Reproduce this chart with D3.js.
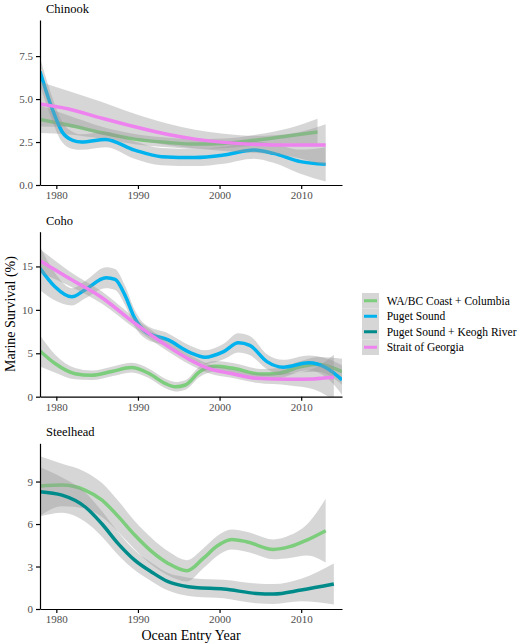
<!DOCTYPE html>
<html lang="en">
<head>
    <meta charset="UTF-8">
    <title>Marine survival by ocean entry year</title>
    <script src="https://d3js.org/d3.v7.min.js"></script>
    <style>
        body { margin: 0; background: #fff; }
        svg { font-family: "Liberation Serif", "Times New Roman", serif; }
        .axis path, .axis line { stroke: #000; stroke-width: 1.2px; }
        .axis text { fill: #4d4d4d; font-size: 11px; font-family: "Liberation Serif", serif; }
        .ribbon { fill: #999; fill-opacity: 0.4; }
        .fit { fill: none; stroke-width: 3.5px; }
    </style>
</head>
<body>
    <div id="chart"></div>
    <script>
        const seriesNames = ["WA/BC Coast + Columbia", "Puget Sound", "Puget Sound + Keogh River", "Strait of Georgia"];
        const seriesColors = ["#7CCD7C", "#00B2EE", "#008B8B", "#EE82EE"];
        const xTicks = [1980, 1990, 2000, 2010];
        const chinookTicks = [0, 2.5, 5, 7.5];
        const cohoTicks = [0, 5, 10, 15];
        const steelheadTicks = [0, 3, 6, 9];

        // rows: [ocean entry year, smoothed survival %, ribbon half width]
        const chinookCoast = [
            [1978, 3.82, 0.8], [1981.5, 3.49, 0.55], [1985.6, 3.04, 0.35], [1989.6, 2.67, 0.3],
            [1993.7, 2.47, 0.28], [1997, 2.38, 0.28], [2000.5, 2.42, 0.28], [2004.6, 2.62, 0.32],
            [2008.6, 2.87, 0.45], [2012, 3.08, 0.78]
        ];
        const chinookPuget = [
            [1978, 6.6, 0.8], [1979.4, 4.55, 0.7], [1980.7, 3.1, 0.6], [1982, 2.6, 0.5],
            [1983.1, 2.5, 0.45], [1986, 2.65, 0.45], [1989.6, 2.03, 0.5], [1992.9, 1.65, 0.5],
            [1997, 1.6, 0.5], [2000.5, 1.74, 0.5], [2004.2, 2.03, 0.5], [2006.6, 1.84, 0.55],
            [2009.9, 1.36, 0.7], [2013, 1.2, 1.0]
        ];
        const chinookGeorgia = [
            [1978, 4.71, 1.3], [1981.5, 4.42, 1.05], [1985.6, 3.88, 0.95], [1989.6, 3.39, 0.75],
            [1993.7, 2.94, 0.62], [1997, 2.67, 0.55], [2000.5, 2.48, 0.5], [2004.6, 2.36, 0.5],
            [2008.6, 2.33, 0.65], [2013, 2.33, 1.2]
        ];
        const cohoCoast = [
            [1978, 5.27, 1.8], [1979.8, 3.85, 1.05], [1982.3, 2.65, 0.65], [1984.3, 2.46, 0.55],
            [1986.8, 2.9, 0.55], [1989.2, 3.35, 0.55], [1991.3, 2.7, 0.55], [1993.3, 1.54, 0.55],
            [1994.6, 1.15, 0.55], [1995.8, 1.35, 0.55], [1997.6, 2.9, 0.6], [1999.5, 3.5, 0.6],
            [2001.5, 3.3, 0.6], [2005.1, 2.6, 0.6], [2007.2, 2.7, 0.6], [2010, 3.46, 0.65],
            [2012, 3.73, 0.85], [2015, 2.88, 1.5]
        ];
        const cohoPuget = [
            [1978, 14.8, 2.5], [1979.8, 12.7, 1.6], [1981.9, 11.5, 1.0], [1983.5, 12.3, 1.0],
            [1986.1, 13.7, 1.2], [1987.2, 13.5, 1.2], [1988.4, 11.7, 1.1], [1989.6, 9.04, 0.95],
            [1990.9, 7.5, 0.8], [1993.7, 6.54, 0.75], [1996.4, 5.08, 0.8], [1998.2, 4.55, 0.8],
            [2000.5, 5.2, 0.9], [2002.3, 6.2, 1.1], [2003.7, 5.9, 1.1], [2005.8, 4.04, 0.85],
            [2007.8, 3.4, 0.85], [2010.9, 3.9, 0.85], [2013.1, 3.3, 1.1], [2015, 1.93, 1.7]
        ];
        const cohoGeorgia = [
            [1978, 15.66, 1.35], [1981.5, 13.66, 0.85], [1985.6, 11.4, 0.7], [1989.6, 8.47, 0.6],
            [1993.7, 5.77, 0.57], [1996.4, 4.23, 0.55], [1998.8, 3.2, 0.52], [2001.3, 2.7, 0.5],
            [2004.5, 2.12, 0.52], [2008.6, 2.0, 0.7], [2011.5, 2.05, 1.2], [2014, 2.23, 2.6]
        ];
        const steelheadCoast = [
            [1978, 8.68, 2.1], [1980.7, 8.75, 1.5], [1983.5, 8.4, 1.3], [1985.6, 7.69, 1.2],
            [1987.6, 6.52, 1.1], [1989.6, 5.22, 1.0], [1991.7, 4.05, 0.95], [1993.7, 3.22, 0.85],
            [1996, 2.7, 0.75], [1998, 3.57, 0.7], [1999.7, 4.45, 0.7],
            [2001.5, 4.91, 0.7], [2003.3, 4.75, 0.7], [2006.6, 4.21, 0.7], [2008.6, 4.4, 0.8],
            [2010.7, 4.87, 1.1], [2013, 5.53, 2.25]
        ];
        const steelheadKeogh = [
            [1978, 8.28, 1.75], [1980.7, 8.04, 1.25], [1983.5, 7.22, 1.05], [1985.6, 6.0, 0.9],
            [1987.6, 4.6, 0.8], [1989.6, 3.45, 0.7], [1991.7, 2.6, 0.65], [1993.7, 1.93, 0.62],
            [1995.4, 1.65, 0.65], [1997, 1.51, 0.65], [2000.5, 1.41, 0.65], [2004.5, 1.1, 0.7],
            [2006.6, 1.06, 0.7], [2010, 1.34, 0.8], [2014, 1.76, 1.45]
        ];

        const width = 520, height = 644;
        const left = 40, right = 342;

        const panels = [
            { title: "Chinook", top: 20, bottom: 185, ymax: 9.6, ticks: chinookTicks, fmt: d3.format(".1f"),
              series: [[0, chinookCoast], [1, chinookPuget], [3, chinookGeorgia]] },
            { title: "Coho", top: 231.7, bottom: 396.7, ymax: 19.0, ticks: cohoTicks, fmt: d3.format("d"),
              series: [[0, cohoCoast], [1, cohoPuget], [3, cohoGeorgia]] },
            { title: "Steelhead", top: 443.3, bottom: 609, ymax: 11.7, ticks: steelheadTicks, fmt: d3.format("d"),
              series: [[0, steelheadCoast], [2, steelheadKeogh]] }
        ];

        const svg = d3.select("#chart").append("svg")
            .attr("width", width)
            .attr("height", height);

        const x = d3.scaleLinear().domain([1978, 2015]).range([left, right]);

        panels.forEach((p, i) => {
            const y = d3.scaleLinear().domain([0, p.ymax]).range([p.bottom, p.top]);

            svg.append("clipPath").attr("id", "clip" + i)
                .append("rect")
                .attr("x", left).attr("y", p.top)
                .attr("width", right - left).attr("height", p.bottom - p.top);

            const g = svg.append("g").attr("clip-path", `url(#clip${i})`);

            const area = d3.area()
                .curve(d3.curveMonotoneX)
                .x(d => x(d[0]))
                .y0(d => y(d[1] - d[2]))
                .y1(d => y(d[1] + d[2]));

            const line = d3.line()
                .curve(d3.curveMonotoneX)
                .x(d => x(d[0]))
                .y(d => y(d[1]));

            // ribbon then line for each group, so later ribbons sit over earlier lines
            p.series.forEach(([k, rows]) => {
                g.append("path").attr("class", "ribbon").attr("d", area(rows));
                g.append("path").attr("class", "fit")
                    .attr("stroke", seriesColors[k])
                    .attr("d", line(rows));
            });

            svg.append("g")
                .attr("class", "axis")
                .attr("transform", `translate(0,${p.bottom})`)
                .call(d3.axisBottom(x).tickValues(xTicks).tickFormat(d3.format("d"))
                    .tickSize(4).tickPadding(2.5).tickSizeOuter(0));

            svg.append("g")
                .attr("class", "axis")
                .attr("transform", `translate(${left},0)`)
                .call(d3.axisLeft(y).tickValues(p.ticks).tickFormat(p.fmt)
                    .tickSize(4).tickPadding(3).tickSizeOuter(0));

            svg.append("text")
                .attr("x", 46)
                .attr("y", p.top - 7)
                .attr("font-size", "12.5px")
                .attr("fill", "#000")
                .text(p.title);
        });

        svg.append("text")
            .attr("x", (left + right) / 2)
            .attr("y", 640)
            .attr("text-anchor", "middle")
            .attr("font-size", "14px")
            .text("Ocean Entry Year");

        svg.append("text")
            .attr("transform", "translate(14.5,314) rotate(-90)")
            .attr("text-anchor", "middle")
            .attr("font-size", "14px")
            .text("Marine Survival (%)");

        // legend
        const keyH = 15.5;
        const legend = svg.append("g").attr("transform", "translate(362,293)");
        const item = legend.selectAll("g")
            .data(seriesNames)
            .join("g")
            .attr("transform", (d, i) => `translate(0,${i * keyH})`);

        item.append("rect")
            .attr("width", 17)
            .attr("height", keyH)
            .attr("fill", "#d6d6d6");

        item.append("line")
            .attr("x1", 2).attr("x2", 15)
            .attr("y1", keyH / 2).attr("y2", keyH / 2)
            .attr("stroke", (d, i) => seriesColors[i])
            .attr("stroke-width", 3);

        item.append("text")
            .attr("x", 24.7)
            .attr("y", keyH / 2 + 4)
            .attr("font-size", "11.5px")
            .text(d => d);
    </script>
</body>
</html>
